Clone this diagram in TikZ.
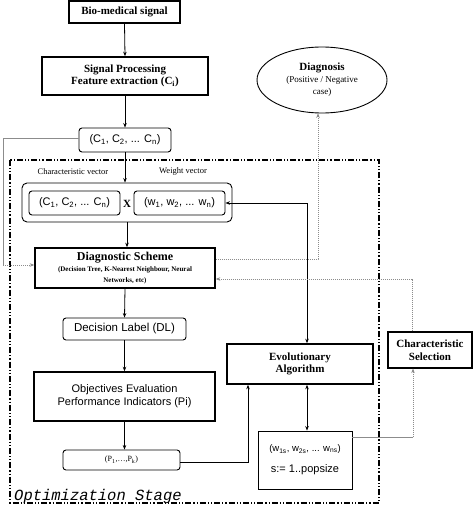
\documentclass[tikz,border=0pt]{standalone}
\usepackage{fontspec}
\setmainfont{Liberation Serif}
\setsansfont{Liberation Sans}
\setmonofont{Liberation Mono}
\usetikzlibrary{arrows.meta,shapes.geometric}
\tikzset{
  thickbox/.style={draw, line width=1.6pt, rectangle, inner sep=1pt, align=center},
  rbox/.style={draw, line width=0.9pt, rounded corners=3pt, inner sep=1pt, align=center},
  thinbox/.style={draw, line width=0.9pt, rectangle, inner sep=1pt, align=center},
  arr/.style={line width=0.8pt, -{Stealth[length=4.5pt,width=3.5pt]}},
  darr/.style={line width=0.8pt, {Stealth[length=4.5pt,width=3.5pt]}-{Stealth[length=4.5pt,width=3.5pt]}},
  garr/.style={draw=black!45, line width=0.9pt, dash pattern=on 1.2pt off 0.8pt, -{Stealth[length=4.5pt,width=3.5pt,fill=black]}},
  gline/.style={draw=black!45, line width=0.9pt, dash pattern=on 1.2pt off 0.8pt},
  frame/.style={line width=1.3pt, dash pattern=on 6pt off 2pt on 1.2pt off 2pt on 1.2pt off 2pt},
  bft/.style={font=\fontsize{11}{12.5}\selectfont\bfseries},
  sft/.style={font=\sffamily\fontsize{11}{13}\selectfont},
}
\begin{document}
\begin{tikzpicture}[x=1pt,y=-1pt]
\useasboundingbox (0,0) rectangle (474,505);
% frame
\draw[frame] (10,160) rectangle (379,503);
\node[anchor=base west, inner sep=0, font=\ttfamily\itshape\fontsize{15.5}{16}\selectfont] (opt) at (14,500) {Optimization Stage};

\node[thickbox, bft, minimum width=111pt, minimum height=22pt] (bio) at (124.5,12) {Bio-medical signal};
\node[thickbox, bft, minimum width=166pt, minimum height=38pt] (sp) at (125,76) {Signal Processing\\Feature extraction (C\textsubscript{i})};
\node[rbox, sft, minimum width=92pt, minimum height=24pt] (c0) at (125,140) {(C\textsubscript{1}, C\textsubscript{2}, ... C\textsubscript{n})};

\node[font=\fontsize{8.5}{10}\selectfont] (cvl) at (73,172) {Characteristic vector};
\node[font=\fontsize{8.5}{10}\selectfont] (wvl) at (183,171) {Weight vector};

\node[rbox, minimum width=210pt, minimum height=39pt, rounded corners=5pt] (outer) at (127,202.5) {};
\node[rbox, sft, minimum width=91pt, minimum height=24pt] (c1) at (74.5,203) {(C\textsubscript{1}, C\textsubscript{2}, ... C\textsubscript{n})};
\node[font=\bfseries\fontsize{11}{12}\selectfont] (x) at (127,204) {X};
\node[rbox, sft, minimum width=91pt, minimum height=24pt] (w) at (179.5,203) {(w\textsubscript{1}, w\textsubscript{2}, ... w\textsubscript{n})};

\node[thickbox, minimum width=180pt, minimum height=40pt] (ds) at (125,268) {{\fontsize{12}{13}\selectfont\bfseries Diagnostic Scheme}\\[-1pt]{\fontsize{7}{8.5}\selectfont\bfseries (Decision Tree, K-Nearest Neighbour, Neural}\\[-1pt]{\fontsize{7}{8.5}\selectfont\bfseries Networks, etc)}};
\node[rbox, font=\sffamily\fontsize{11.5}{13}\selectfont, minimum width=123pt, minimum height=22pt] (dl) at (124.5,329) {Decision Label (DL)};
\node[thickbox, sft, minimum width=181pt, minimum height=49pt] (oe) at (124.5,396.5) {Objectives Evaluation\\Performance Indicators (Pi)};
\node[rbox, font=\fontsize{8}{9}\selectfont, minimum width=117pt, minimum height=20pt] (p) at (121.5,460) {(P\textsubscript{1},\dots,P\textsubscript{k})};

\node[thickbox, bft, minimum width=146pt, minimum height=40pt] (ea) at (300,364) {Evolutionary\\Algorithm};
\node[thinbox, minimum width=94pt, minimum height=58pt] (ws) at (305,460) {{\sffamily\fontsize{9.5}{11}\selectfont (w\textsubscript{1s}, w\textsubscript{2s}, ... w\textsubscript{ns})}\\[9pt]{\sffamily\fontsize{11}{12}\selectfont s:= 1..popsize}};
\node[draw, line width=1.2pt, bft, align=center, minimum width=84pt, minimum height=36pt] (cs) at (430,350) {Characteristic\\Selection};
\node[draw, line width=0.9pt, ellipse, minimum width=130pt, minimum height=66pt, align=center, inner sep=0] (diag) at (322,80) {{\bfseries\fontsize{11}{12.5}\selectfont Diagnosis}\\{\fontsize{9}{11}\selectfont (Positive / Negative}\\{\fontsize{9}{11}\selectfont case)}};

% coordinates
\coordinate (lt) at (3,138);
\coordinate (lb) at (3,265);
\coordinate (wr) at (307,203);
\coordinate (dr) at (318,259);
\coordinate (cr) at (412,279);
\coordinate (pr) at (248,462);
\coordinate (wsr) at (413,437);

% connectors
\draw[arr] (bio.south) -- (sp.north);
\draw[arr] (sp.south) -- (c0.north);
\draw[arr] (c0.south) -- (c0.south |- outer.north);
\draw[arr] (outer.south) -- (outer.south |- ds.north);
\draw[arr] (ds.south) -- (dl.north);
\draw[arr] (dl.south) -- (dl.south |- oe.north);
\draw[arr] (oe.south) -- (oe.south |- p.north);
\draw[gline] (c0.west |- lt) -- (lt) -- (lb);
\draw[garr] (lb) -- (lb -| ds.west);
\draw[darr] (w.east |- wr) -- (wr) -- (wr |- ea.north);
\draw[garr] (ds.east |- dr) -- (dr) -- (dr |- diag.south);
\draw[gline] (cs.north -| cr) -- (cr);
\draw[garr] (cr) -- (cr -| ds.east);
\draw[arr] (p.east |- pr) -- (pr) -- (pr |- ea.south);
\draw[darr] (wr |- ea.south) -- (wr |- ws.north);
\draw[gline] (ws.east |- wsr) -- (wsr);
\draw[garr] (wsr) -- (wsr |- cs.south);
\end{tikzpicture}
\end{document}
